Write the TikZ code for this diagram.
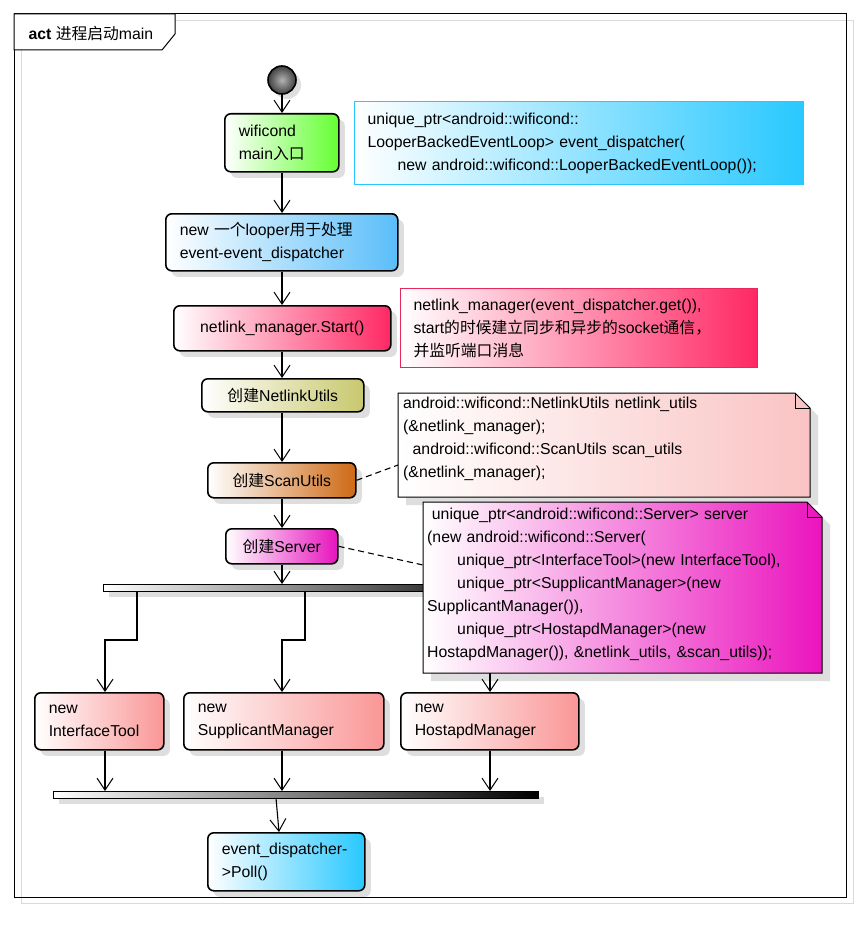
\documentclass[tikz,border=0pt]{standalone}
\usepackage{fontspec}
\setmainfont{Liberation Sans}
\newfontfamily\cjk{Noto Sans CJK SC}
\usetikzlibrary{arrows.meta,shadows,calc}
\begin{document}
\begin{tikzpicture}[x=1pt,y=-1pt,
  font=\fontsize{15.8}{23}\selectfont,
  act/.style={draw=black,line width=1.6pt,rounded corners=6pt,anchor=north west,inner sep=0pt,
     drop shadow={shadow xshift=6pt,shadow yshift=-6pt,fill=black!13,opacity=1},
     left color=white,align=left},
  note/.style={anchor=north west,inner sep=0pt,align=left,left color=white},
  arr/.style={line width=1.1pt,-{Straight Barb[length=12pt,width=16pt,line width=1pt]}},
  dashln/.style={line width=1.1pt,dash pattern=on 6pt off 4pt},
  bar/.style={draw=black,line width=0.8pt,left color=white,right color=black,
     drop shadow={shadow xshift=6pt,shadow yshift=-6pt,fill=black!13,opacity=1}}]
\useasboundingbox (0,0) rectangle (856,931);
\fill[white] (0,0) rectangle (856,931);
% frame
\draw[black!15,line width=1pt] (21,21) rectangle (853,903);
\draw[line width=1pt] (14,14) rectangle (846,897);
\draw[line width=1pt,fill=white] (14,14) -- (175,14) -- (175,34) -- (162,50) -- (14,50) -- cycle;
\node[anchor=west] (title) at (25,34) {\textbf{act} {\cjk 进程启动}main};
% start
\shade[inner color=gray!60,outer color=black!75,draw=black,line width=1.6pt,
  drop shadow={shadow xshift=5pt,shadow yshift=-5pt,fill=black!13,opacity=1}] (282,80) circle (14);
\coordinate (st) at (282,94);
% nodes
\node[act,right color={rgb,255:red,100;green,255;blue,50},minimum width=114pt,minimum height=58pt,text width=86pt] (wc) at (224,113) {wificond\\main{\cjk 入口}};
\node[act,right color={rgb,255:red,90;green,190;blue,250},minimum width=232pt,minimum height=57pt,text width=204pt] (lp) at (165,213) {new {\cjk 一个}looper{\cjk 用于处理}\\event-event\_dispatcher};
\node[act,right color={rgb,255:red,255;green,40;blue,100},minimum width=217pt,minimum height=45pt,align=center] (nm) at (173,305) {netlink\_manager.Start()};
\node[act,right color={rgb,255:red,200;green,200;blue,110},minimum width=162pt,minimum height=33pt,align=center] (nu) at (201,378) {{\cjk 创建}NetlinkUtils};
\node[act,right color={rgb,255:red,205;green,105;blue,20},minimum width=148pt,minimum height=35pt,align=center] (su) at (207,462) {{\cjk 创建}ScanUtils};
\node[act,right color={rgb,255:red,230;green,20;blue,190},minimum width=112pt,minimum height=35pt,align=center] (sv) at (225,528) {{\cjk 创建}Server};
% fork bar
\path[bar] (103,584) rectangle (520,591);
\coordinate (f1) at (137,591);\coordinate (f2) at (305,591);
\node[act,right color={rgb,255:red,250;green,150;blue,150},minimum width=129pt,minimum height=57pt,text width=101pt] (it) at (34,692) {new\\InterfaceTool};
\node[act,right color={rgb,255:red,250;green,150;blue,150},minimum width=200pt,minimum height=57pt,text width=172pt] (sm) at (183,692) {new\\SupplicantManager};
\node[act,right color={rgb,255:red,250;green,150;blue,150},minimum width=178pt,minimum height=57pt,text width=150pt] (hm) at (400,692) {new\\HostapdManager};
\path[bar] (53,791) rectangle (538,798);
\coordinate (j1) at (105,791);\coordinate (j2) at (282,791);\coordinate (j3) at (490,791);\coordinate (j0) at (276,798);
\node[act,right color={rgb,255:red,40;green,200;blue,255},minimum width=157pt,minimum height=58pt,text width=129pt] (pl) at (207,832) {event\_dispatcher-\\>Poll()};
% notes
\node[note,draw={rgb,255:red,40;green,200;blue,255},line width=1pt,right color={rgb,255:red,40;green,200;blue,255},minimum width=449pt,minimum height=83pt,text width=423pt] (n1) at (354,101)
 {unique\_ptr<android::wificond::\\LooperBackedEventLoop> event\_dispatcher(\\\hspace*{1.9em}new android::wificond::LooperBackedEventLoop());};
\node[note,draw={rgb,255:red,230;green,40;blue,90},line width=1pt,right color={rgb,255:red,255;green,40;blue,100},minimum width=357pt,minimum height=79pt,text width=331pt] (n2) at (400,288)
 {netlink\_manager(event\_dispatcher.get()),\\start{\cjk 的时候建立同步和异步的}socket{\cjk 通信，}\\{\cjk 并监听端口消息}};
% note3
\fill[black!13] (406,401) -- (803,401) -- (818,416) -- (818,505) -- (406,505) -- cycle;
\shade[left color=white,right color={rgb,255:red,250;green,195;blue,195},draw=black,line width=1pt] (398,393) -- (795,393) -- (810,408) -- (810,497) -- (398,497) -- cycle;
\draw[line width=1pt] (795,393) -- (795,408) -- (810,408);
\node[anchor=north west,inner sep=0pt,align=left,text width=405pt] (n3) at (403,397)
 {android::wificond::NetlinkUtils netlink\_utils\\(\&netlink\_manager);\\\hspace*{0.6em}android::wificond::ScanUtils scan\_utils\\(\&netlink\_manager);};
% note4
\fill[black!13] (431,510) -- (815,510) -- (830,525) -- (830,681) -- (431,681) -- cycle;
\shade[left color=white,right color={rgb,255:red,235;green,20;blue,190},draw=black,line width=1pt] (423,502) -- (807,502) -- (822,517) -- (822,673) -- (423,673) -- cycle;
\draw[line width=1pt] (807,502) -- (807,517) -- (822,517);
\node[anchor=north west,inner sep=0pt,align=left,text width=395pt] (n4) at (427,508)
 {\hspace*{0.3em}unique\_ptr<android::wificond::Server> server\\(new android::wificond::Server(\\\hspace*{1.9em}unique\_ptr<InterfaceTool>(new InterfaceTool),\\\hspace*{1.9em}unique\_ptr<SupplicantManager>(new\\SupplicantManager()),\\\hspace*{1.9em}unique\_ptr<HostapdManager>(new\\HostapdManager()), \&netlink\_utils, \&scan\_utils));};
% connectors
\draw[arr] (st) -- (wc.north-|st);
\draw[arr] (wc.south-|st) -- (lp.north-|st);
\draw[arr] (lp.south-|st) -- (nm.north-|st);
\draw[arr] (nm.south-|st) -- (nu.north-|st);
\draw[arr] (nu.south-|st) -- (su.north-|st);
\draw[arr] (su.south-|st) -- (sv.north-|st);
\draw[arr] (sv.south-|st) -- (st|-584,584);
\draw[arr] (f1) -- (137,640) -- (105,640) -- (it.north-|105,0);
\draw[arr] (f2) -- (305,640) -- (282,640) -- (sm.north-|282,0);
\draw[arr] (490,673) -- (hm.north-|490,0);
\draw[arr] (it.south-|105,0) -- (j1);
\draw[arr] (sm.south-|282,0) -- (j2);
\draw[arr] (hm.south-|490,0) -- (j3);
\draw[arr] (j0) -- (pl.north-|279,0);
\draw[dashln] (su.east) -- (398,465);
\draw[dashln] (sv.east) -- (423,565);
\end{tikzpicture}
\end{document}
